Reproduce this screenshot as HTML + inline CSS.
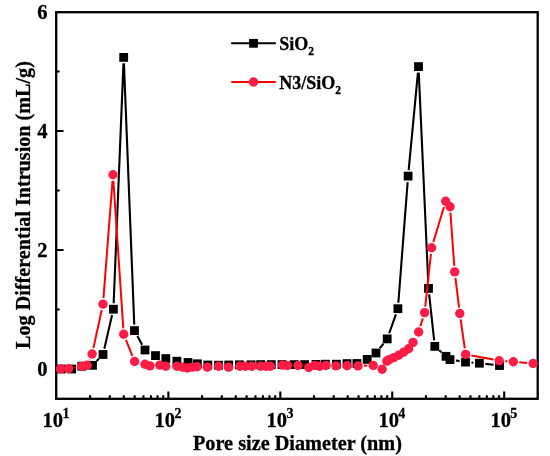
<!DOCTYPE html>
<html><head><meta charset="utf-8"><title>Pore size distribution</title>
<style>html,body{margin:0;padding:0;background:#fff;}body{width:550px;height:456px;overflow:hidden;}svg{display:block;}svg text{font-family:"Liberation Serif",serif;font-weight:bold;fill:#000;stroke:#000;stroke-width:0.3px;}</style>
</head><body>
<svg width="550" height="456" viewBox="0 0 550 456"><rect x="56.2" y="12.2" width="481.5" height="386.6" fill="none" stroke="#000" stroke-width="2.3"/>
<path d="M56.2 369H63.55M56.2 309.5H59.65M56.2 250H63.55M56.2 190.5H59.65M56.2 131H63.55M56.2 71.5H59.65M90.1 398.8V395.35M109.81 398.8V395.35M123.8 398.8V395.35M134.65 398.8V395.35M143.51 398.8V395.35M151.01 398.8V395.35M157.5 398.8V395.35M163.23 398.8V395.35M168.35 398.8V391.4M202.05 398.8V395.35M221.76 398.8V395.35M235.75 398.8V395.35M246.6 398.8V395.35M255.46 398.8V395.35M262.96 398.8V395.35M269.45 398.8V395.35M275.18 398.8V395.35M280.3 398.8V391.4M314 398.8V395.35M333.71 398.8V395.35M347.7 398.8V395.35M358.55 398.8V395.35M367.41 398.8V395.35M374.91 398.8V395.35M381.4 398.8V395.35M387.13 398.8V395.35M392.25 398.8V391.4M425.95 398.8V395.35M445.66 398.8V395.35M459.65 398.8V395.35M470.5 398.8V395.35M479.36 398.8V395.35M486.86 398.8V395.35M493.35 398.8V395.35M499.08 398.8V395.35M504.2 398.8V391.4" stroke="#000" stroke-width="2.1" fill="none"/>
<g font-size="20.5"><text x="47.5" y="376" text-anchor="end">0</text><text x="47.5" y="257" text-anchor="end">2</text><text x="47.5" y="138" text-anchor="end">4</text><text x="47.5" y="19" text-anchor="end">6</text></g>
<g font-size="20.5"><text x="42.6" y="426.8">10<tspan font-size="14" dx="-0.6" dy="-8.5">1</tspan></text><text x="154.55" y="426.8">10<tspan font-size="14" dx="-0.6" dy="-8.5">2</tspan></text><text x="266.5" y="426.8">10<tspan font-size="14" dx="-0.6" dy="-8.5">3</tspan></text><text x="378.45" y="426.8">10<tspan font-size="14" dx="-0.6" dy="-8.5">4</tspan></text><text x="490.4" y="426.8">10<tspan font-size="14" dx="-0.6" dy="-8.5">5</tspan></text></g>
<text x="193" y="449.6" font-size="20.25">Pore size Diameter (nm)</text>
<text transform="translate(29.8 348.9) rotate(-90)" font-size="20.15">Log Differential Intrusion (mL/g)</text>
<path d="M96.68 361L98.82 358.8M104.34 348.65L112.06 315.05M113.65 303.21L123.45 63.39M123.94 63.4L134.26 324.6M137.36 335.88L142.14 344.72M288 364.6L288.3 364.6M379.73 348.3L383.47 343.6M389.2 333.24L395.9 314.36M398.36 302.72L407.64 182.08M408.67 170.13L417.93 72.57M418.77 72.59L428.23 282.41M429.15 294.36L434.15 340.44M439.3 350.37L441.5 352.33M455.92 360.56L459.58 361.14M471.48 362.57L473.42 362.73M485.36 363.88L493.54 364.82" stroke="#000" stroke-width="2.1" fill="none"/>
<g fill="#000"><rect x="56.9" y="364.6" width="8.8" height="8.8"/><rect x="67.3" y="364.6" width="8.8" height="8.8"/><rect x="77.4" y="361.8" width="8.8" height="8.8"/><rect x="88.1" y="360.9" width="8.8" height="8.8"/><rect x="98.6" y="350.1" width="8.8" height="8.8"/><rect x="109" y="304.8" width="8.8" height="8.8"/><rect x="119.3" y="53" width="8.8" height="8.8"/><rect x="130.1" y="326.2" width="8.8" height="8.8"/><rect x="140.6" y="345.6" width="8.8" height="8.8"/><rect x="151.1" y="351.2" width="8.8" height="8.8"/><rect x="161.4" y="354.2" width="8.8" height="8.8"/><rect x="172.5" y="356.8" width="8.8" height="8.8"/><rect x="183.6" y="358.1" width="8.8" height="8.8"/><rect x="193" y="359.4" width="8.8" height="8.8"/><rect x="203.4" y="360.6" width="8.8" height="8.8"/><rect x="214.1" y="360.8" width="8.8" height="8.8"/><rect x="224.3" y="360.6" width="8.8" height="8.8"/><rect x="235" y="360.4" width="8.8" height="8.8"/><rect x="246.7" y="360.4" width="8.8" height="8.8"/><rect x="256.3" y="360.2" width="8.8" height="8.8"/><rect x="266.9" y="360.2" width="8.8" height="8.8"/><rect x="277.6" y="360.2" width="8.8" height="8.8"/><rect x="289.9" y="360.2" width="8.8" height="8.8"/><rect x="300.2" y="360.2" width="8.8" height="8.8"/><rect x="311.6" y="360" width="8.8" height="8.8"/><rect x="321" y="359.8" width="8.8" height="8.8"/><rect x="332" y="359.8" width="8.8" height="8.8"/><rect x="342.6" y="359.2" width="8.8" height="8.8"/><rect x="352.5" y="359.1" width="8.8" height="8.8"/><rect x="362.8" y="355" width="8.8" height="8.8"/><rect x="371.6" y="348.6" width="8.8" height="8.8"/><rect x="382.8" y="334.5" width="8.8" height="8.8"/><rect x="393.5" y="304.3" width="8.8" height="8.8"/><rect x="403.7" y="171.7" width="8.8" height="8.8"/><rect x="414.1" y="62.2" width="8.8" height="8.8"/><rect x="424.1" y="284" width="8.8" height="8.8"/><rect x="430.4" y="342" width="8.8" height="8.8"/><rect x="441.6" y="351.9" width="8.8" height="8.8"/><rect x="445.6" y="355.2" width="8.8" height="8.8"/><rect x="461.1" y="357.7" width="8.8" height="8.8"/><rect x="475" y="358.8" width="8.8" height="8.8"/><rect x="495.1" y="361.1" width="8.8" height="8.8"/></g>
<path d="M74.5 367.52L75.8 367.28M89.59 359.8L89.71 359.5M93.38 348.14L101.72 309.96M103.46 298.12L112.54 180.78M113.4 180.79L123.3 328.31M125.93 339.87L132.37 355.93M364 365.7L367.2 365.6M420.37 326.27L422.83 318.33M425.24 306.63L430.96 253.77M433.34 242.06L443.96 206.94M450.43 212.68L454.27 265.92M455.43 277.86L459.07 307.54M460.64 319.44L464.76 348.46M471.5 355.51L493.3 359.59M505.18 361.17L507.32 361.33M519.28 362.31L527.12 362.99" stroke="#f00" stroke-width="2" fill="none"/>
<g fill="#fb1d45"><circle cx="60.5" cy="368.9" r="4.7"/><circle cx="68.6" cy="368.6" r="4.7"/><circle cx="81.7" cy="366.2" r="4.7"/><circle cx="87.2" cy="365.3" r="4.7"/><circle cx="92.1" cy="354" r="4.7"/><circle cx="103" cy="304.1" r="4.7"/><circle cx="113" cy="174.8" r="4.7"/><circle cx="123.7" cy="334.3" r="4.7"/><circle cx="134.6" cy="361.5" r="4.7"/><circle cx="145" cy="364.3" r="4.7"/><circle cx="149.9" cy="365.9" r="4.7"/><circle cx="159.7" cy="365.1" r="4.7"/><circle cx="165.8" cy="366.3" r="4.7"/><circle cx="176.9" cy="366.3" r="4.7"/><circle cx="182.5" cy="367.1" r="4.7"/><circle cx="187.4" cy="368" r="4.7"/><circle cx="192.3" cy="367.1" r="4.7"/><circle cx="197.2" cy="366.7" r="4.7"/><circle cx="207.4" cy="367.1" r="4.7"/><circle cx="218.5" cy="366.3" r="4.7"/><circle cx="228.5" cy="367.1" r="4.7"/><circle cx="239.8" cy="366.3" r="4.7"/><circle cx="245.3" cy="366.3" r="4.7"/><circle cx="251.8" cy="366.3" r="4.7"/><circle cx="260.5" cy="366.3" r="4.7"/><circle cx="266" cy="366.3" r="4.7"/><circle cx="270.4" cy="366.3" r="4.7"/><circle cx="282.5" cy="365.1" r="4.7"/><circle cx="287.4" cy="365.5" r="4.7"/><circle cx="298" cy="365.5" r="4.7"/><circle cx="308.7" cy="367.5" r="4.7"/><circle cx="314.8" cy="365.5" r="4.7"/><circle cx="319.7" cy="366.3" r="4.7"/><circle cx="326.1" cy="365.5" r="4.7"/><circle cx="336" cy="365.9" r="4.7"/><circle cx="347.1" cy="365.8" r="4.7"/><circle cx="358" cy="365.9" r="4.7"/><circle cx="373.2" cy="365.4" r="4.7"/><circle cx="382.1" cy="369.2" r="4.7"/><circle cx="386.8" cy="361.1" r="4.7"/><circle cx="389.3" cy="359.6" r="4.7"/><circle cx="393.8" cy="357.6" r="4.7"/><circle cx="398.7" cy="355.2" r="4.7"/><circle cx="403.6" cy="352.2" r="4.7"/><circle cx="408.6" cy="348.8" r="4.7"/><circle cx="413" cy="342.4" r="4.7"/><circle cx="418.6" cy="332" r="4.7"/><circle cx="424.6" cy="312.6" r="4.7"/><circle cx="431.6" cy="247.8" r="4.7"/><circle cx="445.7" cy="201.2" r="4.7"/><circle cx="450" cy="206.7" r="4.7"/><circle cx="454.7" cy="271.9" r="4.7"/><circle cx="459.8" cy="313.5" r="4.7"/><circle cx="465.6" cy="354.4" r="4.7"/><circle cx="499.2" cy="360.7" r="4.7"/><circle cx="513.3" cy="361.8" r="4.7"/><circle cx="533.1" cy="363.5" r="4.7"/></g>
<path d="M232 43.3H275" stroke="#000" stroke-width="2.1" stroke-linecap="round"/>
<rect x="249.1" y="38.9" width="8.8" height="8.8" fill="#000"/>
<path d="M232 82H275" stroke="#f00" stroke-width="2" stroke-linecap="round"/>
<circle cx="253.5" cy="82" r="4.75" fill="#fb1d45"/>
<g font-size="18"><text x="279.3" y="50.2">SiO<tspan font-size="11.5" dy="4.8">2</tspan></text><text x="279.3" y="88.9">N3/SiO<tspan font-size="11.5" dy="4.8">2</tspan></text></g></svg>
</body></html>
